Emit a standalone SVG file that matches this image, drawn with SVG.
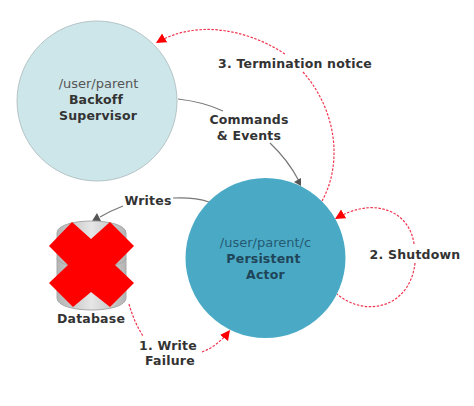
<svg xmlns="http://www.w3.org/2000/svg" width="474" height="406" viewBox="0 0 474 406">
<defs>
<style>
text{font-family:"DejaVu Sans",sans-serif;font-size:12.5px;text-anchor:middle;fill:#333}
.b{font-weight:bold;letter-spacing:.2px}
.n{font-size:13px}
.s{fill:#555}
.a{fill:#245a72}
.d{fill:#1f4558}
.g{fill:none;stroke:#777;stroke-width:1.2}
.h{fill:#555}
.r{fill:none;stroke:#f0354f;stroke-width:1.2;stroke-dasharray:2.5 1.5}
</style>
<marker id="ar" markerUnits="userSpaceOnUse" markerWidth="14" markerHeight="14" refX="10" refY="5" orient="auto"><path d="M0 0L10 5L0 10Z" fill="#f00"/></marker>
<linearGradient id="db" x1="0" x2="1" y1="0" y2="0"><stop offset="0" stop-color="#b4b4b4"/><stop offset=".5" stop-color="#e6e6e6"/><stop offset="1" stop-color="#b4b4b4"/></linearGradient>
</defs>
<g id="connectors">
<path class="g" d="M178 99Q204 102 223 111"/>
<path class="g" d="M270 143Q288 160 299 181"/>
<path class="h" d="M294 182L301 178L301 186Z"/>
<path class="g" d="M173 198Q195 197 209 202"/>
<path class="g" d="M123 206Q110 211 100 217"/>
<path class="h" d="M97 213L92 221L101 221Z"/>
<path class="r" marker-end="url(#ar)" d="M285 54C245 28 195 20 156 43"/>
<path class="r" d="M303 72C338 112 342 165 322 201"/>
<path class="r" marker-end="url(#ar)" d="M414 244C410 212 375 195 335 219"/>
<path class="r" d="M415 263C410 308 365 318 337 294"/>
<path class="r" d="M129 304Q134 322 143 336"/>
<path class="r" marker-end="url(#ar)" d="M202 352Q218 346 230 330"/>
</g>
<g id="supervisor">
<circle cx="97" cy="101" r="80" fill="#cde6ea" stroke="#b5c4c6"/>
<text class="n s" x="98.500" y="88">/user/parent</text>
<text class="b" x="96" y="104">Backoff</text>
<text class="b" x="98" y="120">Supervisor</text>
</g>
<g id="actor">
<circle cx="265.500" cy="258" r="80" fill="#4aaac6"/>
<text class="n a" x="265.500" y="247">/user/parent/c</text>
<text class="b d" x="263.500" y="263">Persistent</text>
<text class="b d" x="265.500" y="279">Actor</text>
</g>
<g id="database">
<path d="M57 233C57 217 126 217 126 233V298C126 314 57 314 57 298Z" fill="url(#db)" stroke="#a8a8a8"/>
<path d="M57 258C57 270 126 270 126 258M57 282C57 295 126 295 126 282" fill="none" stroke="#a8a8a8"/>
<path d="M72 222L91 239L110 222L134 246L115 265L134 283L110 307L91 292L73 307L49 283L68 265L49 246Z" fill="#f00"/>
<text class="b" x="91" y="323">Database</text>
</g>
<g id="labels">
<text class="b" x="148" y="205">Writes</text>
<text class="b" x="249" y="124">Commands</text>
<text class="b" x="249" y="140">&amp; Events</text>
<text class="b" x="295" y="68">3. Termination notice</text>
<text class="b" x="415" y="259">2. Shutdown</text>
<text class="b" x="168" y="350">1. Write</text>
<text class="b" x="170" y="365">Failure</text>
</g>
</svg>
